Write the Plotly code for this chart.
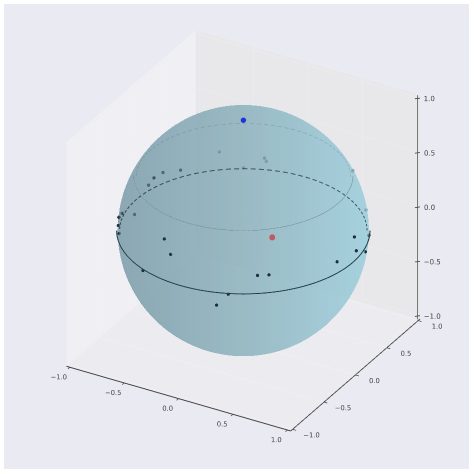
import numpy as np
import plotly.graph_objects as go

TICKS = [-1.0, -0.5, 0.0, 0.5, 1.0]
TICK_LABELS = ["\u22121.0", "\u22120.5", "0.0", "0.5", "1.0"]
BG = "#EAEAF2"
LIM = 1.03

# Bloch vectors
front_x = [-0.193, -0.110, -0.391, 0.392, 0.300, 0.588, 0.660, 0.975, 0.995, 0.980, 0.875, 0.957, -0.790, -0.828]
front_y = [-0.924, -0.967, -0.921, -0.919, -0.946, -0.793, -0.735, -0.197, 0.075, 0.070, 0.484, 0.285, -0.609, -0.555]
front_z = [0.330, 0.234, -0.019, -0.011, -0.125, 0.155, 0.152, 0.094, 0.065, 0.190, -0.032, -0.060, 0.050, 0.085]

back_dark_x = [-0.965, -0.966, -0.927]
back_dark_y = [0.246, -0.259, -0.374]
back_dark_z = [0.084, 0.009, 0.042]

back_mid_x = [-0.865, -0.935, -0.981, -0.991]
back_mid_y = [0.499, 0.340, 0.190, -0.017]
back_mid_z = [0.057, 0.094, 0.040, -0.129]

back_faint_x = [-0.649, -0.345, -0.332, -0.500, 0.743, 0.583]
back_faint_y = [0.743, 0.933, 0.940, 0.866, 0.664, 0.732]
back_faint_z = [0.165, 0.100, 0.072, 0.000, 0.072, 0.352]

north = [0.0, 0.0, 1.015]
state = [0.633, -0.637, 0.440]

ring_heights = [0.0, 0.5]

u = np.linspace(0, 2 * np.pi, 121)
v = np.linspace(0, np.pi, 61)
sx = np.outer(np.cos(u), np.sin(v))
sy = np.outer(np.sin(u), np.sin(v))
sz = np.outer(np.ones_like(u), np.cos(v))
shade = 0.866 * sx + 0.5 * sy

fig = go.Figure()
fig.add_trace(go.Surface(
    x=sx, y=sy, z=sz, surfacecolor=shade, cmin=-1, cmax=1,
    colorscale=[[0, "#698F9D"], [0.5, "#7FAAB6"], [1, "#8FC9D9"]],
    showscale=False, opacity=0.5, hoverinfo="skip",
    lighting=dict(ambient=1, diffuse=0, specular=0, roughness=1, fresnel=0),
))


def ring(z0, t, f):
    r = np.sqrt(1 - z0 ** 2)
    return f * r * np.cos(t), f * r * np.sin(t), np.full_like(t, f * z0)


def dashed(z0, t0, t1, n, f):
    xs, ys, zs = [], [], []
    period = (t1 - t0) / n
    for i in range(n):
        t = np.linspace(t0 + i * period, t0 + (i + 0.62) * period, 4)
        a, b, c = ring(z0, t, f)
        xs += list(a) + [None]
        ys += list(b) + [None]
        zs += list(c) + [None]
    return xs, ys, zs


a = np.deg2rad(-60)
styles = [(ring_heights[0], "#1F3F4D", "#000000", 2.2), (ring_heights[1], "#6F8E9A", "#7B8C94", 1.4)]
for z0, front_col, back_col, w in styles:
    fx, fy, fz = ring(z0, np.linspace(a - np.pi / 2, a + np.pi / 2, 120), 1.008)
    fig.add_trace(go.Scatter3d(x=fx, y=fy, z=fz, mode="lines",
                               line=dict(color=front_col, width=w), hoverinfo="skip"))
    bx, by, bz = dashed(z0, a + np.pi / 2, a + 3 * np.pi / 2, 47, 0.985)
    fig.add_trace(go.Scatter3d(x=bx, y=by, z=bz, mode="lines", connectgaps=False,
                               line=dict(color=back_col, width=w), hoverinfo="skip"))

for xs, ys, zs, col, sz_ in [(front_x, front_y, front_z, "#1E303A", 2.0),
                             (back_dark_x, back_dark_y, back_dark_z, "#000000", 2.0),
                             (back_mid_x, back_mid_y, back_mid_z, "#34383C", 2.0),
                             (back_faint_x, back_faint_y, back_faint_z, "#7B828A", 2.0)]:
    fig.add_trace(go.Scatter3d(x=xs, y=ys, z=zs, mode="markers",
                               marker=dict(size=sz_, color=col, line=dict(width=0)), hoverinfo="skip"))
fig.add_trace(go.Scatter3d(x=[north[0]], y=[north[1]], z=[north[2]], mode="markers",
                           marker=dict(size=3.2, color="#1F35D8", line=dict(width=0)), hoverinfo="skip"))
fig.add_trace(go.Scatter3d(x=[state[0]], y=[state[1]], z=[state[2]], mode="markers",
                           marker=dict(size=3.6, color="#BE5A66", line=dict(width=0)), hoverinfo="skip"))

# z axis sits on the right-hand edge
ZX = 1.015
fig.add_trace(go.Scatter3d(x=[ZX, ZX], y=[ZX, ZX], z=[-LIM, LIM], mode="lines",
                           line=dict(color="#4F4F4F", width=1.5), hoverinfo="skip"))
tx, ty, tz = [], [], []
for t in TICKS:
    tx += [ZX - 0.015, ZX + 0.015, None]
    ty += [ZX - 0.015, ZX + 0.015, None]
    tz += [t, t, None]
fig.add_trace(go.Scatter3d(x=tx, y=ty, z=tz, mode="lines", connectgaps=False,
                           line=dict(color="#333333", width=1.5), hoverinfo="skip"))
fig.add_trace(go.Scatter3d(x=[ZX] * 5, y=[ZX] * 5, z=TICKS, mode="text",
                           text=["  " + s for s in TICK_LABELS], textposition="middle right",
                           textfont=dict(family="DejaVu Sans", size=7, color="#444444"), hoverinfo="skip"))


def axis(bgcol, grid, visible=True):
    return dict(range=[-LIM, LIM], tickvals=TICKS if visible else [], ticktext=TICK_LABELS if visible else [],
                tickangle=0, title=dict(text=""),
                showline=visible, linecolor="#444444", linewidth=2,
                ticks="outside" if visible else "", ticklen=4, tickcolor="#333333", tickwidth=1.5,
                showticklabels=visible,
                showgrid=True, gridcolor=grid, gridwidth=1,
                zeroline=False, showbackground=True, backgroundcolor=bgcol,
                showspikes=False, tickfont=dict(family="DejaVu Sans", size=9, color="#444444"))


z_axis = axis("#ECECF0", "#EEEEF1", visible=False)
z_axis.update(tickvals=TICKS, ticktext=[""] * 5)

k = 1.70
zoom = 1.113
shift = (-0.0190, -0.0257, -0.022)
fig.update_layout(
    width=474, height=474, margin=dict(l=0, r=0, t=0, b=0),
    paper_bgcolor="white", showlegend=False,
    scene=dict(
        domain=dict(x=[4 / 474, 469 / 474], y=[5 / 474, 470 / 474]),
        bgcolor=BG,
        aspectmode="manual",
        aspectratio=dict(x=zoom, y=zoom, z=zoom),
        xaxis=axis("#EFEFF4", "#EDEDF0"), yaxis=axis("#E8E8EA", "#F3F3F6"), zaxis=z_axis,
        camera=dict(projection=dict(type="orthographic"),
                    eye=dict(x=0.433 * k + shift[0], y=-0.75 * k + shift[1], z=0.5 * k + shift[2]),
                    center=dict(x=shift[0], y=shift[1], z=shift[2]), up=dict(x=0, y=0, z=1)),
    ),
)
fig.write_html("out.html", post_script="document.body.style.margin='0';", config=dict(displayModeBar=False))
